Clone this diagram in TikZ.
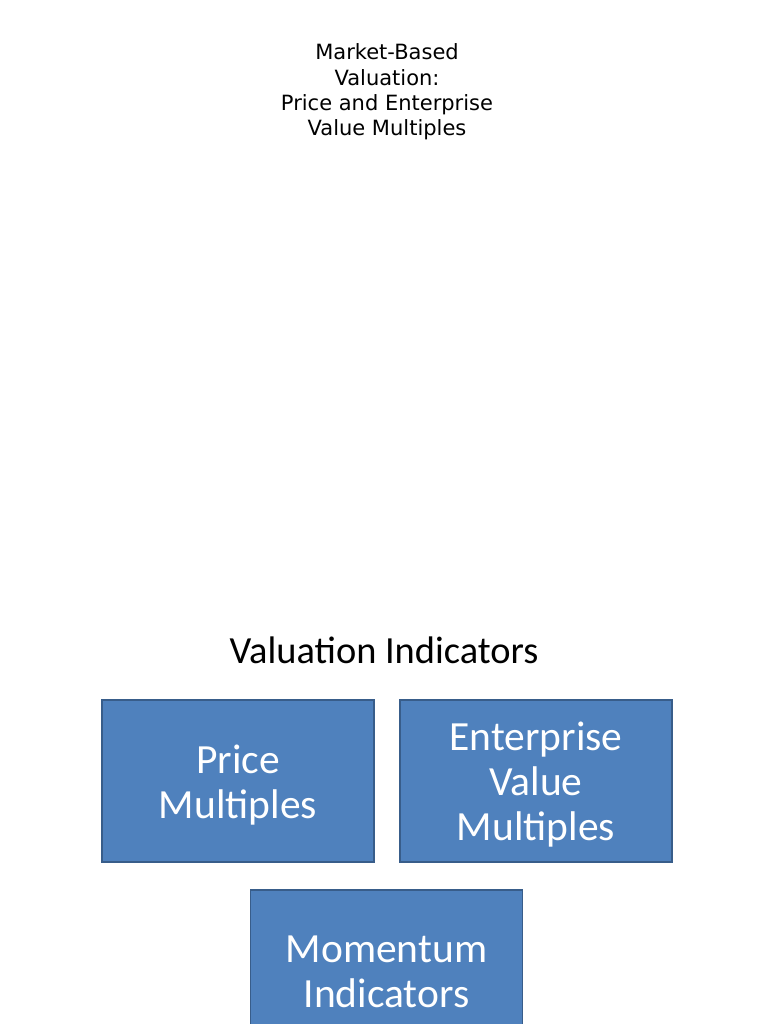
\documentclass[tikz,border=0pt]{standalone}
\usepackage{fontspec}
\setmainfont{Carlito}
\newfontfamily\titlefont{DejaVu Sans}
\definecolor{boxfill}{HTML}{4F81BD}
\definecolor{boxline}{HTML}{385D8A}
\begin{document}
\begin{tikzpicture}[x=1pt,y=-1pt,
  bluebox/.style={draw=boxline, line width=1.2pt, fill=boxfill,
    minimum width=272pt, minimum height=162pt, inner sep=0pt},
  boxtext/.style={text=white, align=center, inner sep=0pt,
    font=\fontsize{41.5}{45}\selectfont},
  titletext/.style={align=center, font=\titlefont\fontsize{21}{25.3}\selectfont},
  headtext/.style={font=\fontsize{38.4}{44}\selectfont}]
\useasboundingbox (0,0) rectangle (768,1024);
\node[titletext] (title) at (387,92) {Market-Based\\Valuation:\\Price and Enterprise\\Value Multiples};
\node[headtext] (head) at (384,650) {Valuation Indicators};
\node[bluebox] (price) at (238,781) {};
\node[boxtext] (pricet) at ([yshift=-4pt]price.center) {Price\\Multiples};
\node[bluebox] (ev) at (536,781) {};
\node[boxtext] (evt) at ([yshift=-4pt]ev.center) {Enterprise\\Value\\Multiples};
\node[bluebox] (mom) at (386.5,971) {};
\node[boxtext] (momt) at ([yshift=-1pt]mom.center) {Momentum\\Indicators};
\end{tikzpicture}
\end{document}
